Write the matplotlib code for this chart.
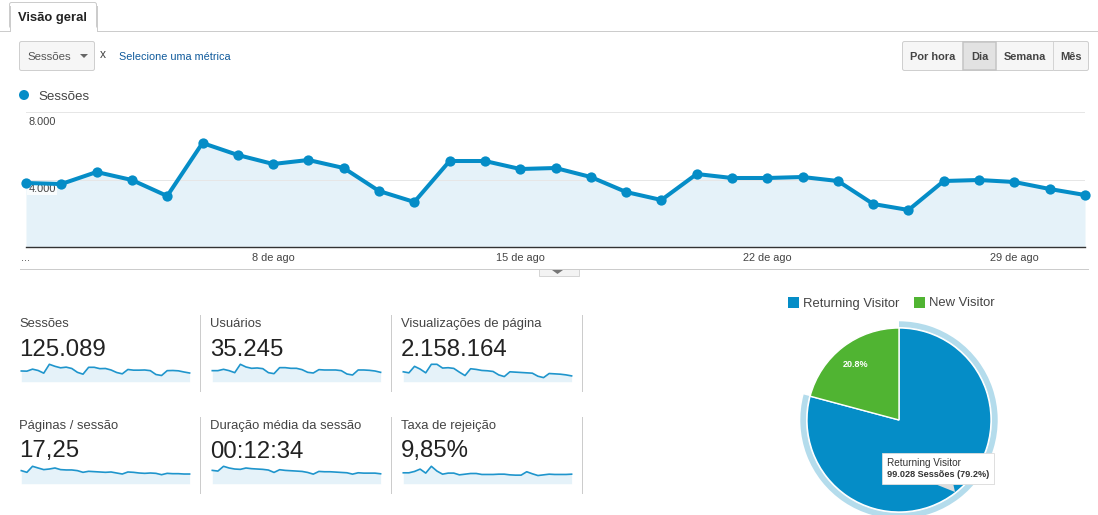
import matplotlib
matplotlib.use('Agg')
import matplotlib.pyplot as plt
from matplotlib.patches import Rectangle, FancyBboxPatch, Polygon, Circle

plt.rcParams['font.family'] = ['Liberation Sans', 'DejaVu Sans']

W, H = 1098, 515

# dados
dias = list(range(31))
tick_pos = [0, 7, 14, 21, 28]
tick_labels = ['...', '8 de ago', '15 de ago', '22 de ago', '29 de ago']
y_ticks = [4000, 8000]
y_labels = ['4.000', '8.000']

sessoes = [3793, 3733, 4444, 3970, 3022, 6163, 5452, 4919, 5156, 4681, 3319, 2667, 5096, 5096, 4622, 4681,
           4148, 3259, 2785, 4326, 4089, 4089, 4148, 3911, 2548, 2193, 3911, 3970, 3852, 3437, 3081]
usuarios = [1079, 1079, 1210, 1079, 883, 1700, 1439, 1308, 1341, 1275, 883, 785, 1373, 1373, 1308, 1308,
            1177, 916, 850, 1177, 1144, 1144, 1144, 1079, 752, 654, 1144, 1144, 1112, 1046, 916]
visualizacoes = [69600, 62400, 108000, 88800, 62400, 122400, 122400, 96000, 98400, 93600, 67200, 43200,
                 91200, 86400, 79200, 76800, 72000, 48000, 36000, 69600, 67200, 64800, 62400, 60000,
                 38400, 28800, 57600, 55200, 52800, 48000, 40800]
paginas = [19.3, 16.8, 25.7, 23.2, 20.8, 21.7, 23.2, 20.8, 20.3, 20.3, 19.3, 16.8, 18.3, 17.8, 17.3, 16.8,
           17.3, 15.8, 14.3, 17.3, 16.8, 15.8, 15.3, 15.8, 15.3, 13.3, 15.3, 14.8, 14.8, 14.3, 14.3]
duracao = [796, 755, 1040, 938, 877, 857, 938, 898, 877, 857, 816, 673, 836, 796, 775, 755,
           734, 673, 571, 734, 714, 714, 694, 673, 653, 571, 653, 632, 632, 632, 592]
rejeicao = [11.2, 11.2, 12.6, 15.0, 10.9, 17.9, 13.0, 9.8, 10.9, 10.9, 9.1, 9.8, 10.5, 10.5, 9.5, 9.5,
            9.5, 9.8, 9.8, 9.1, 8.8, 8.8, 12.3, 10.2, 8.4, 9.1, 9.8, 9.5, 9.5, 9.5, 9.8]

metric_names = ['Sessões', 'Usuários', 'Visualizações de página',
                'Páginas / sessão', 'Duração média da sessão', 'Taxa de rejeição']
metric_totals = ['125.089', '35.245', '2.158.164', '17,25', '00:12:34', '9,85%']
metric_series = [sessoes, usuarios, visualizacoes, paginas, duracao, rejeicao]

visitor_labels = ['Returning Visitor', 'New Visitor']
visitor_values = [99028, 26061]

AZUL = '#058dc7'
VERDE = '#50b432'
CLARO = '#e5f2f9'
TEXTO = '#444444'
LW1 = 0.72  # 1 pixel


def px(v):  # tamanho de fonte em pixels -> pontos
    return v * 0.72


def px_axes(left, top, right, bottom, **kw):  # eixos posicionados em pixels da imagem
    return fig.add_axes([left / W, 1 - bottom / H, (right - left) / W, (bottom - top) / H], **kw)


fig = plt.figure(figsize=(W / 100, H / 100), dpi=100, facecolor='white')

# camada da interface, coordenadas em pixels
ui = fig.add_axes([0, 0, 1, 1])
ui.set_xlim(0, W)
ui.set_ylim(H, 0)
ui.axis('off')


def label(x, y, s, size=12, color=TEXTO, **kw):
    ui.text(x, y + 1.5, s, fontsize=px(size), color=color, va='center', **kw)


def box(x0, y0, x1, y1, fc='#f6f6f6', ec='#cfcfcf', z=1):
    ui.add_patch(FancyBboxPatch((x0, y0), x1 - x0, y1 - y0, boxstyle='round,pad=0,rounding_size=2',
                                fc=fc, ec=ec, lw=LW1, zorder=z))


# aba
ui.plot([0, W], [30.5, 30.5], color='#cccccc', lw=LW1, zorder=1)
ui.add_patch(Rectangle((9.5, 6), 87, 26, fc='white', ec='none', zorder=2))
box(9.5, 2.5, 96.5, 28, fc='white', ec='#cccccc', z=2)
ui.add_patch(Rectangle((10, 20), 86, 12, fc='white', ec='none', zorder=3))
ui.plot([9.5, 9.5], [6, 30.5], color='#cccccc', lw=LW1, zorder=3)
ui.plot([96.5, 96.5], [6, 30.5], color='#cccccc', lw=LW1, zorder=3)
label(18, 16, 'Visão geral', 13, '#222222', fontweight='bold', zorder=4)

# seletor de metrica
box(19.5, 41.5, 94.5, 70.5)
label(27, 55, 'Sessões', 11.5, '#555555', zorder=3)
ui.add_patch(Polygon([[80, 54], [88, 54], [84, 58]], fc='#666666', ec='none', zorder=3))
label(100, 54, 'x', 12, '#444444')
label(119, 55, 'Selecione uma métrica', 10.9, '#0f5a9c')

# botoes de periodo
botoes = [('Por hora', 902.5, 963), ('Dia', 963, 996), ('Semana', 996, 1053), ('Mês', 1053, 1088.5)]
box(902.5, 41.5, 1088.5, 70.5)
ui.add_patch(Rectangle((963, 42), 33, 28, fc='#e2e2e2', ec='#c4c4c4', lw=1.1, zorder=2))
ui.plot([1053, 1053], [42, 70], color='#d4d4d4', lw=LW1, zorder=2)
for nome, x0, x1 in botoes:
    label((x0 + x1) / 2, 55, nome, 11, '#444444', ha='center', fontweight='bold', zorder=3)

# legenda
ui.add_patch(Circle((24, 95), 5, fc=AZUL, ec='none'))
label(38, 95.5, 'Sessões', 13.4, TEXTO)

# grafico principal
ax = px_axes(26, 112, 1085, 247)
ax.set_facecolor('none')
ax.fill_between(dias, sessoes, 0, color=CLARO, lw=0, zorder=1)
ax.plot(dias, sessoes, color=AZUL, lw=2.9, marker='o', ms=7.4, mew=0, clip_on=False, zorder=4)
ax.set_xlim(0, 30)
ax.set_ylim(0, 8000)
for s in ['top', 'left', 'right']:
    ax.spines[s].set_visible(False)
ax.spines['bottom'].set_color('#333333')
ax.spines['bottom'].set_linewidth(1.0)
ax.set_yticks(y_ticks)
ax.set_yticklabels([])
ax.tick_params(axis='y', length=0)
ax.grid(axis='y', color='#e6e6e6', lw=LW1, zorder=2)
ax.set_axisbelow(False)
ax.set_xticks(tick_pos)
ax.set_xticklabels(tick_labels, fontsize=px(11), color=TEXTO)
ax.tick_params(axis='x', length=0, pad=4)
for t, s in zip(y_ticks, y_labels):
    bg = dict(fc='white', ec='none', pad=1, alpha=0.8) if t == 4000 else None
    ax.annotate(s, (0, t), xytext=(1.6, -7 if t == 8000 else -6.7), textcoords='offset points', va='center',
                fontsize=px(11), color=TEXTO, bbox=bg, zorder=3)

# divisor abaixo do grafico
ui.plot([20, 1088], [268.5, 268.5], color='#cccccc', lw=LW1)
ui.add_patch(Rectangle((538.5, 268.5), 40, 7, fc='#f3f3f3', ec='#d5d5d5', lw=LW1))
ui.add_patch(Polygon([[552, 270], [563, 270], [557.5, 274]], fc='#777777', ec='none', zorder=3))

# metricas com mini graficos
col_x = [19, 210, 401]
row_y = [322, 424]
spark_h = 17.4
for i in range(6):
    c, r = i % 3, i // 3
    x, y = col_x[c], row_y[r]
    label(x, y + 0.7, metric_names[i], 13, TEXTO)
    label(x, y + 26, metric_totals[i], 24, '#222222')
    ui.plot([x + 180.5, x + 180.5], [y - 7, y + 69], color='#cccccc', lw=LW1)
    sp = px_axes(x + 2.3, y + 59.7 - spark_h, x + 170.6, y + 59.7)
    sp.fill_between(dias, metric_series[i], 0, color=CLARO, lw=0)
    sp.plot(dias, metric_series[i], color='#1f95cc', lw=1.2, clip_on=False)
    sp.set_xlim(0, 30)
    sp.set_ylim(0, max(metric_series[i]))
    sp.axis('off')

# legenda da pizza
ui.add_patch(Rectangle((788, 297), 11, 11, fc=AZUL, ec='none'))
label(803, 302, visitor_labels[0], 13, TEXTO)
ui.add_patch(Rectangle((914, 297), 11, 11, fc=VERDE, ec='none'))
label(929, 302, visitor_labels[1], 13, TEXTO)

# pizza, centro em (899, 420) e raio 92 px
pie = px_axes(789, 310, 1009, 515)
pie.pie(visitor_values, colors=[AZUL, VERDE], startangle=90, counterclock=False, radius=92,
        wedgeprops=dict(ec='white', lw=1.0))
pie.pie(visitor_values, colors=['#b4dcec', 'none'], startangle=90, counterclock=False, radius=98.7,
        wedgeprops=dict(width=5.7, ec='none'))
pie.set_xlim(-110, 110)
pie.set_ylim(-95, 110)
pie.set_aspect('equal')
label(855.5, 363, '20.8%', 9, 'white', ha='center', fontweight='bold', zorder=6)

# tooltip
ui.set_zorder(5)
ui.patch.set_visible(False)
ui.add_patch(Polygon([[935, 484], [953, 483], [955, 492]], fc='#dddddd', ec='none', zorder=6))
ui.add_patch(Rectangle((883, 454), 112, 31, fc='#cccccc', ec='none', alpha=0.6, zorder=6))
ui.add_patch(Rectangle((882, 453), 112, 31, fc='white', ec='#dddddd', lw=0.6, zorder=7))
label(887, 461, 'Returning Visitor', 10, '#333333', zorder=8)
label(887, 473, '99.028 Sessões (79.2%)', 9.1, '#333333', fontweight='bold', zorder=8)

fig.savefig('out.png', dpi=100)
